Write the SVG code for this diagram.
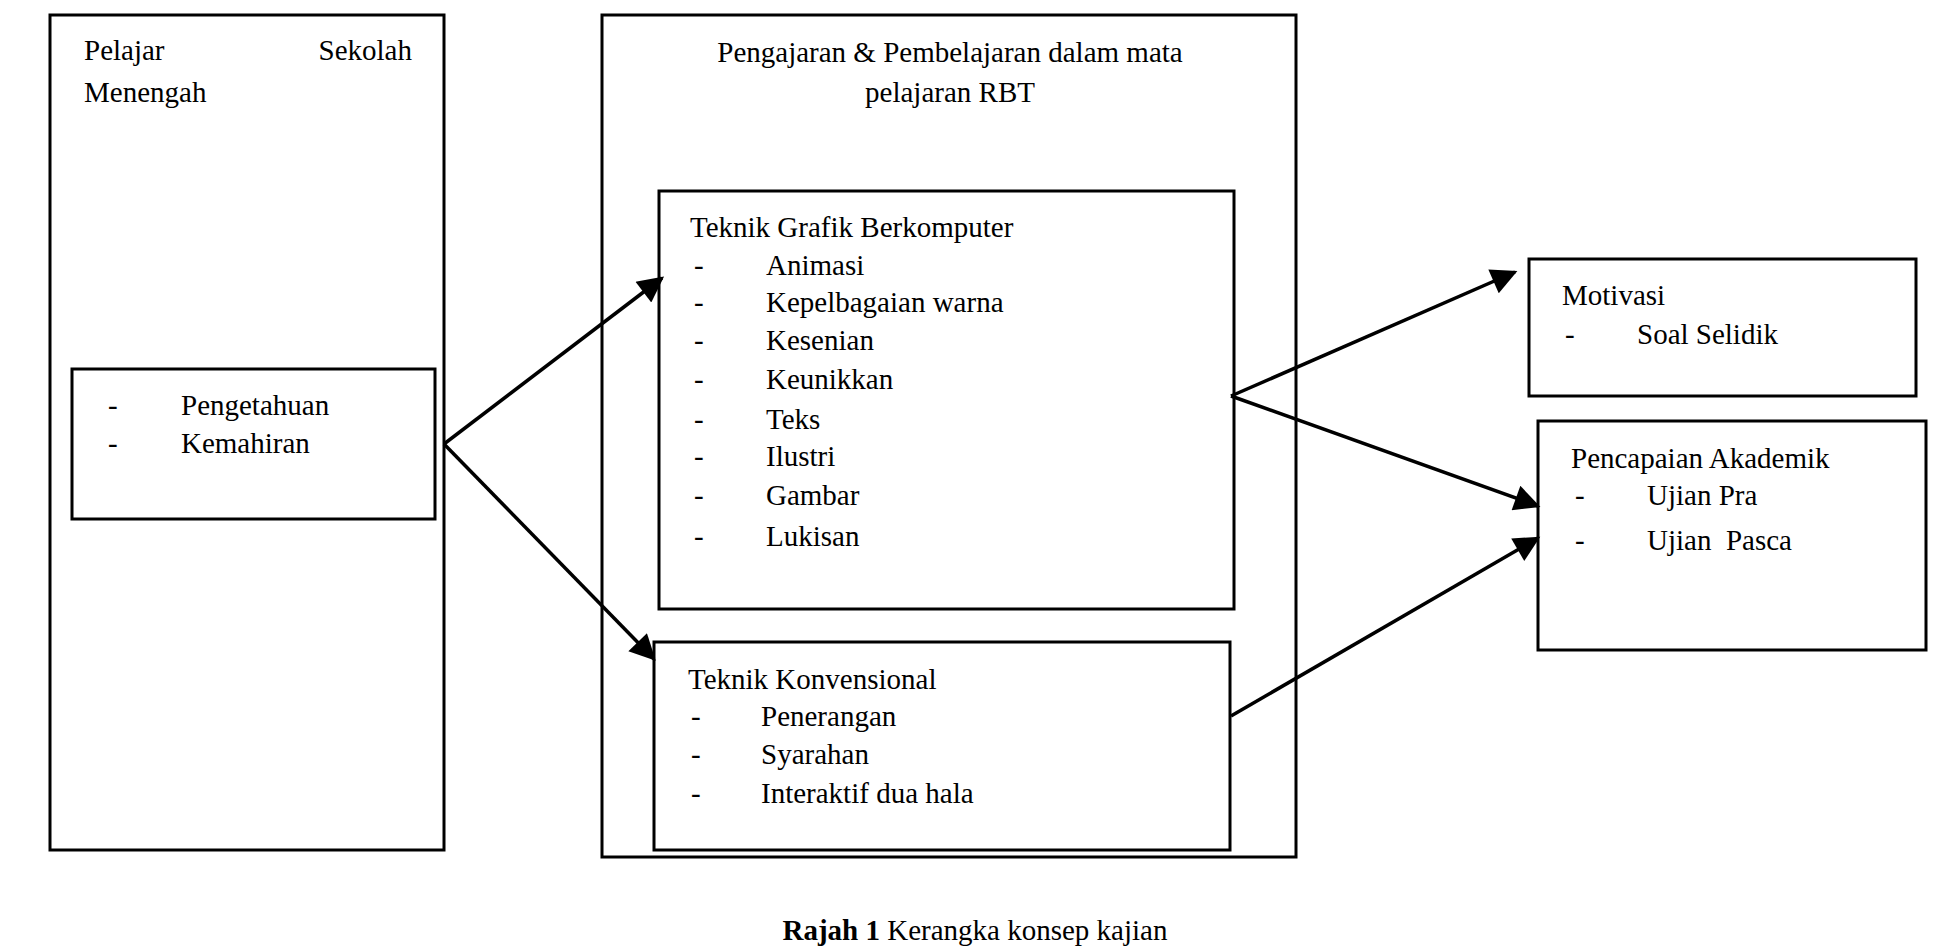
<svg xmlns="http://www.w3.org/2000/svg" width="1949" height="948" viewBox="0 0 1949 948">
<style>
rect{fill:none;stroke:#000;stroke-width:3}
text{font-family:"Liberation Serif","Times New Roman","DejaVu Serif",serif;font-size:29px;fill:#000}
.c{stroke:#000;stroke-width:3.5;fill:none}
</style>
<defs><marker id="a" viewBox="0 0 10 10" refX="9" refY="5" markerWidth="30" markerHeight="26" markerUnits="userSpaceOnUse" orient="auto"><path d="M0,0 L10,5 L0,10 z"/></marker></defs>
<g id="pelajar"><rect x="50" y="15" width="394" height="835"/>
<text x="84" y="60">Pelajar</text><text x="412" y="60" text-anchor="end">Sekolah</text><text x="84" y="102">Menengah</text></g>
<g id="pengetahuan"><rect x="72" y="369" width="363" height="150"/>
<text x="108" y="415">-</text><text x="181" y="415">Pengetahuan</text><text x="108" y="453">-</text><text x="181" y="453">Kemahiran</text></g>
<g id="pengajaran"><rect x="602" y="15" width="694" height="842"/>
<text x="950" y="62" text-anchor="middle">Pengajaran &amp; Pembelajaran dalam mata</text><text x="950" y="102" text-anchor="middle">pelajaran RBT</text></g>
<g id="tgb"><rect x="659" y="191" width="575" height="418"/>
<text x="690" y="237">Teknik Grafik Berkomputer</text>
<text x="694" y="275">-</text><text x="766" y="275">Animasi</text>
<text x="694" y="312">-</text><text x="766" y="312">Kepelbagaian warna</text>
<text x="694" y="350">-</text><text x="766" y="350">Kesenian</text>
<text x="694" y="389">-</text><text x="766" y="389">Keunikkan</text>
<text x="694" y="429">-</text><text x="766" y="429">Teks</text>
<text x="694" y="466">-</text><text x="766" y="466">Ilustri</text>
<text x="694" y="505">-</text><text x="766" y="505">Gambar</text>
<text x="694" y="546">-</text><text x="766" y="546">Lukisan</text></g>
<g id="tk"><rect x="654" y="642" width="576" height="208"/>
<text x="688" y="689">Teknik Konvensional</text>
<text x="691" y="726">-</text><text x="761" y="726">Penerangan</text>
<text x="691" y="764">-</text><text x="761" y="764">Syarahan</text>
<text x="691" y="803">-</text><text x="761" y="803">Interaktif dua hala</text></g>
<g id="motivasi"><rect x="1529" y="259" width="387" height="137"/>
<text x="1562" y="305">Motivasi</text><text x="1565" y="344">-</text><text x="1637" y="344">Soal Selidik</text></g>
<g id="pencapaian"><rect x="1538" y="421" width="388" height="229"/>
<text x="1571" y="468">Pencapaian Akademik</text><text x="1575" y="505">-</text><text x="1647" y="505">Ujian Pra</text>
<text x="1575" y="550">-</text><text x="1647" y="550" xml:space="preserve">Ujian  Pasca</text></g>
<g id="connectors">
<path class="c" d="M444,444 L662,278" marker-end="url(#a)"/>
<path class="c" d="M444,444 L654,659" marker-end="url(#a)"/>
<path class="c" d="M1231,396 L1515,272" marker-end="url(#a)"/>
<path class="c" d="M1231,396 L1538,506" marker-end="url(#a)"/>
<path class="c" d="M1231,716 L1538,538" marker-end="url(#a)"/>
</g>
<text x="975" y="940" text-anchor="middle"><tspan font-weight="bold">Rajah 1</tspan> Kerangka konsep kajian</text>
</svg>
